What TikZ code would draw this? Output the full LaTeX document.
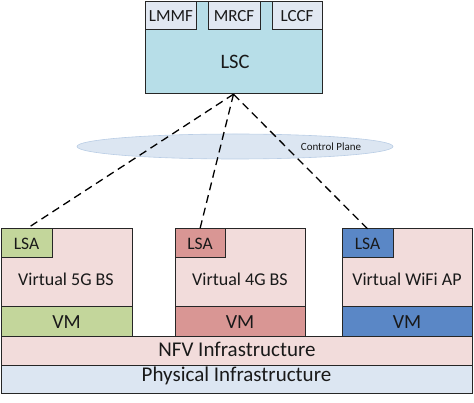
\documentclass[tikz,border=0pt]{standalone}
\usepackage{fontspec}
\setmainfont{Carlito}
\usetikzlibrary{shapes.geometric}
\definecolor{pinkfill}{HTML}{F2DCDB}
\definecolor{greenfill}{HTML}{C3D69B}
\definecolor{redfill}{HTML}{D99694}
\definecolor{bluefill}{HTML}{5A87C6}
\definecolor{physfill}{HTML}{DCE6F2}
\definecolor{lscfill}{HTML}{B7DEE8}
\definecolor{funcfill}{HTML}{E1E8F2}
\definecolor{planefill}{HTML}{DCE6F2}
\definecolor{planedraw}{HTML}{B9CDE5}
\definecolor{edge}{HTML}{262626}
\begin{document}
\begin{tikzpicture}[x=1pt,y=-1pt,
  blk/.style={draw=edge, line width=1pt},
  txt/.style={anchor=base, inner sep=0pt, text=black!90},
  ctrl/.style={draw=black, line width=1.3pt, dash pattern=on 8pt off 5pt}]
\useasboundingbox (0,0) rectangle (474,403);
% top controller
\path[blk, fill=lscfill] (145,2) rectangle (322,94);
\node[inner sep=0pt, minimum width=177pt, minimum height=92pt] (lsc) at (233.5,48) {};
\path[blk, fill=funcfill] (145,2) rectangle (196,30);
\path[blk, fill=funcfill] (208,2) rectangle (260,30);
\path[blk, fill=funcfill] (272,2) rectangle (322,30);
\node[txt, font=\fontsize{17}{17}\selectfont] (lmmf) at (171,21.5) {LMMF};
\node[txt, font=\fontsize{17}{17}\selectfont] (mrcf) at (234,21.5) {MRCF};
\node[txt, font=\fontsize{17}{17}\selectfont] (lccf) at (297,21.5) {LCCF};
\node[txt, font=\fontsize{20.5}{20.5}\selectfont] (lsctext) at (235,68.3) {LSC};
% control plane
\node[ellipse, draw=planedraw, fill=planefill, line width=0.6pt, minimum width=316pt, minimum height=25pt, inner sep=0pt] (plane) at (235,146.5) {};
\node[txt, font=\fontsize{11}{11}\selectfont] (planetext) at (331,150.5) {Control Plane};
% bottom boxes
\path[blk, fill=pinkfill] (1,229) rectangle (132,307);
\path[blk, fill=pinkfill] (175,229) rectangle (305,307);
\path[blk, fill=pinkfill] (342,229) rectangle (472,307);
\path[blk, fill=greenfill] (1,307) rectangle (132,336.7);
\path[blk, fill=redfill] (175,307) rectangle (305,336.7);
\path[blk, fill=bluefill] (342,307) rectangle (472,336.7);
\path[blk, fill=greenfill] (1,229) rectangle (52,258);
\path[blk, fill=redfill] (175,229) rectangle (225,258);
\path[blk, fill=bluefill] (342,229) rectangle (393,258);
\node[inner sep=0pt, minimum width=51pt, minimum height=29pt] (lsa1) at (26.5,243.5) {};
\node[inner sep=0pt, minimum width=50pt, minimum height=29pt] (lsa2) at (200,243.5) {};
\node[inner sep=0pt, minimum width=51pt, minimum height=29pt] (lsa3) at (367.5,243.5) {};
\path[blk, fill=pinkfill] (1,336.7) rectangle (472,365.7);
\path[blk, fill=physfill] (1,365.7) rectangle (472,393.3);
% texts
\foreach \n/\x in {lsaa/26.5, lsab/200, lsac/367.5}
  \node[txt, font=\fontsize{17.5}{17.5}\selectfont] (\n) at (\x,249.3) {LSA};
\node[txt, font=\fontsize{18}{18}\selectfont] (v5g) at (66,285.7) {Virtual 5G BS};
\node[txt, font=\fontsize{18}{18}\selectfont] (v4g) at (240,285.7) {Virtual 4G BS};
\node[txt, font=\fontsize{18}{18}\selectfont] (vwifi) at (407,285.7) {Virtual WiFi AP};
\foreach \n/\x in {vma/66.5, vmb/240, vmc/407}
  \node[txt, font=\fontsize{20}{20}\selectfont] (\n) at (\x,328.3) {VM};
\node[txt, font=\fontsize{21}{21}\selectfont] (nfv) at (237,356.3) {NFV Infrastructure};
\node[txt, font=\fontsize{21}{21}\selectfont] (phys) at (236.5,381.3) {Physical Infrastructure};
% control links
\draw[ctrl] (lsc.south) -- (lsa1.north);
\draw[ctrl] (lsc.south) -- (lsa2.north);
\draw[ctrl] (lsc.south) -- (lsa3.north);
\end{tikzpicture}
\end{document}
